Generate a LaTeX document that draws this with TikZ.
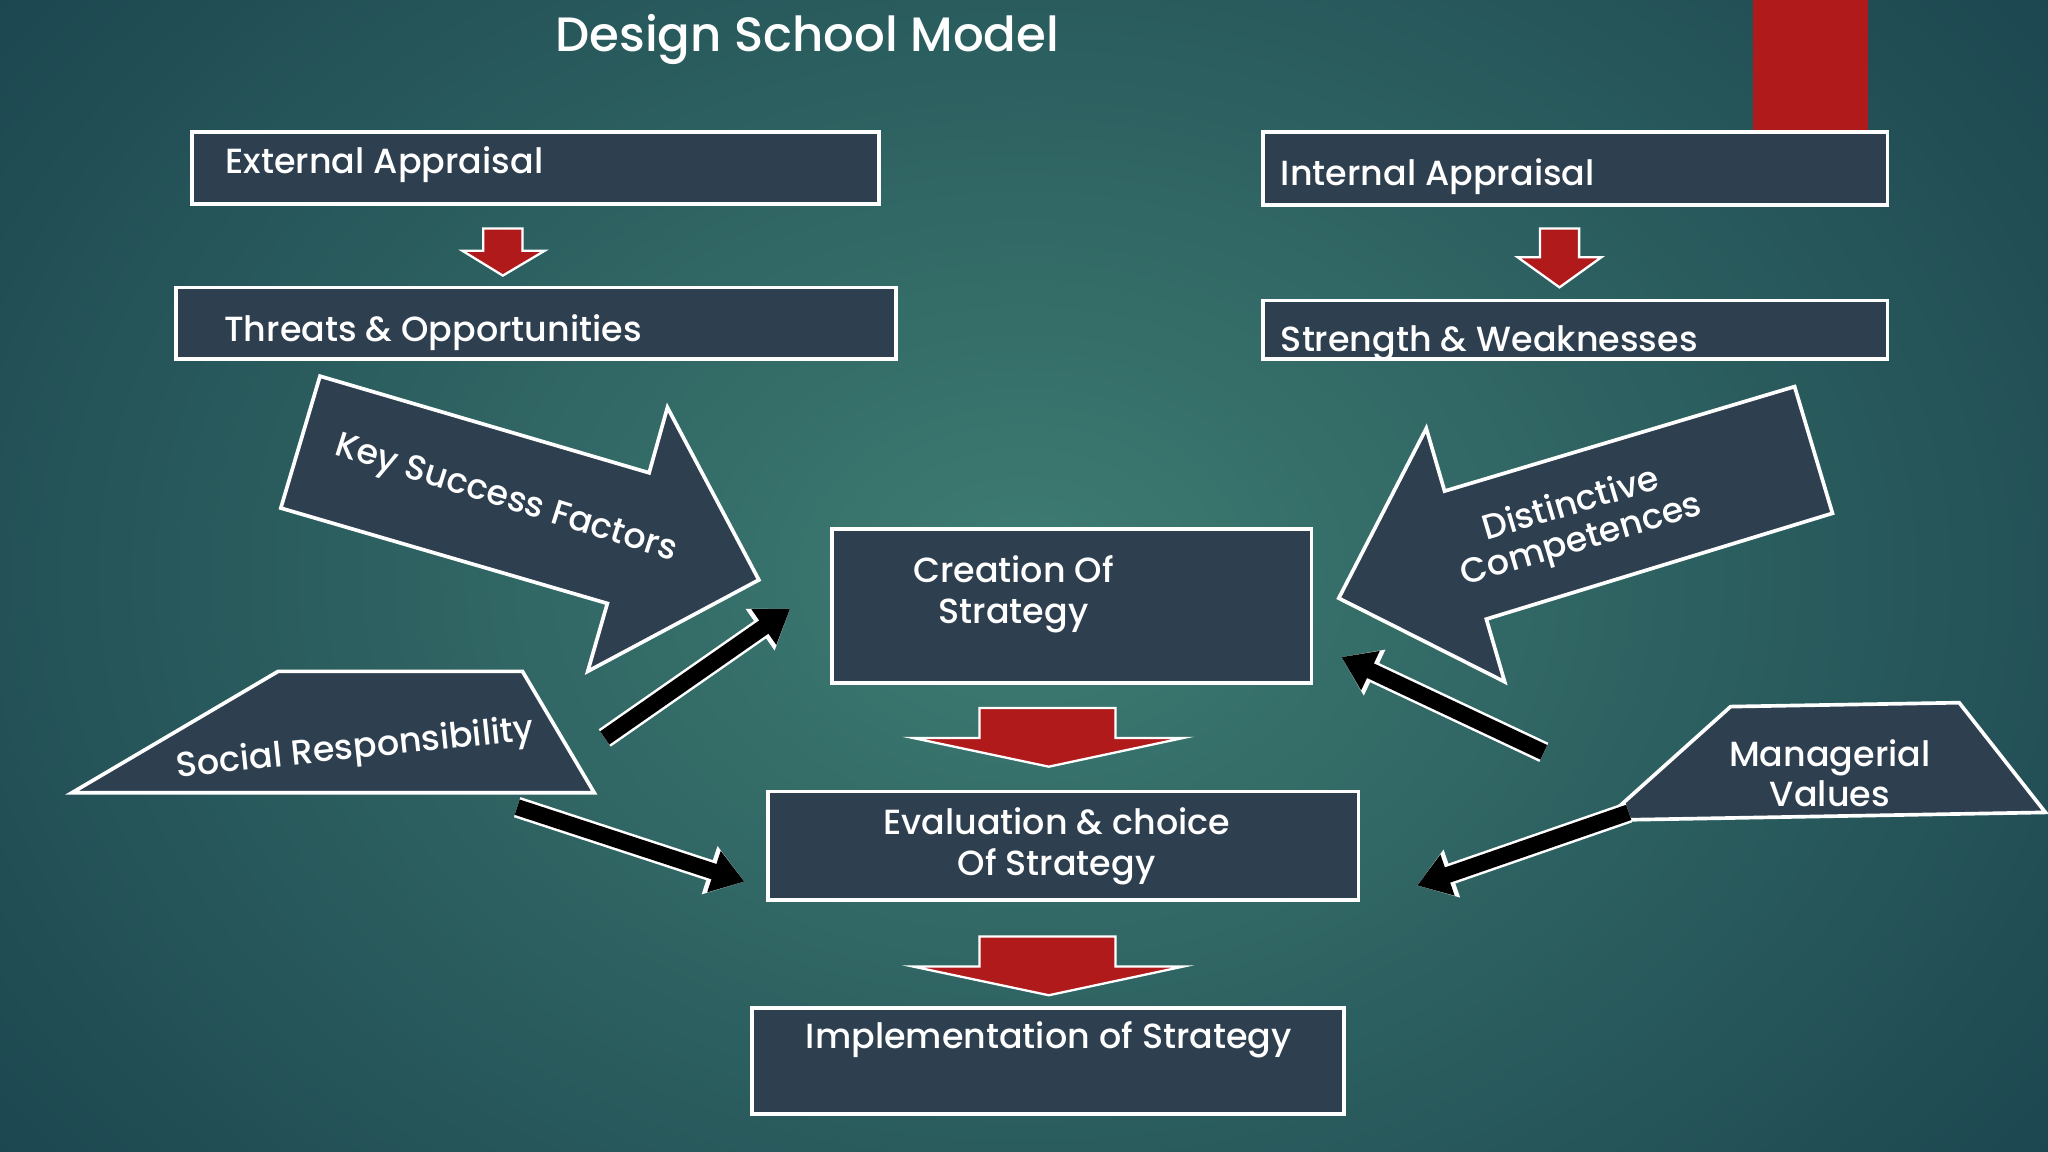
\documentclass[tikz,border=0pt]{standalone}
\usepackage{fontspec}
\setmainfont{Poppins}[UprightFont={* Medium}]
\usetikzlibrary{arrows.meta}
\definecolor{boxc}{HTML}{2E3F4F}
\definecolor{redc}{HTML}{B01A1A}
\definecolor{bgin}{HTML}{3E7C72}
\definecolor{bgout}{HTML}{1C4650}
\tikzset{
  box/.style={draw=white, fill=boxc, line width=0.8pt},
  lbl/.style={text=white, font=\fontsize{7.6}{8.8}\selectfont, align=center},
  redarr/.style={fill=redc, draw=white, line width=0.5pt},
  blk/.style={line width=3.5pt, black, -{Triangle[length=7pt,width=9pt]},
     preaction={draw=white, line width=4.6pt, -{Triangle[length=8pt,width=10.5pt]}}}
}
\begin{document}
\begin{tikzpicture}[x=0.01cm,y=-0.01cm]
\useasboundingbox (0,0) rectangle (1568,882);
\shade[inner color=bgin, outer color=bgout] (-200,-300) rectangle (1768,1182);
\fill[redc] (1342,0) rectangle (1430,100);
\node[text=white, font=\fontsize{10.5}{12}\selectfont] (title) at (618,30) {Design School Model};
% top boxes
\draw[box] (147,101) rectangle (673,156);
\node[lbl, anchor=west, inner sep=0pt] (ext) at (172,126) {External Appraisal};
\draw[redarr] (370,175) -- (400,175) -- (400,192) -- (417,192) -- (385,211) -- (354,192) -- (370,192) -- cycle;
\draw[box] (135,220) rectangle (686,275);
\node[lbl, anchor=west, inner sep=0pt] (thr) at (171,255) {Threats \& Opportunities};
\draw[box] (967,101) rectangle (1445,157);
\node[lbl, anchor=west, inner sep=0pt] (int) at (980,135) {Internal Appraisal};
\draw[redarr] (1179,175) -- (1209,175) -- (1209,197) -- (1226,197) -- (1194,220) -- (1162,197) -- (1179,197) -- cycle;
\draw[box] (967,230) rectangle (1445,275);
\node[lbl, anchor=west, inner sep=0pt] (str) at (980,263) {Strength \& Weaknesses};
% big arrows
\draw[box] (245,288) -- (497,362) -- (511,312) -- (581,444) -- (450,514) -- (465,462) -- (215,389) -- cycle;
\node[lbl, rotate=-17.5] (ksf) at (387,383) {Key Success Factors};
\draw[box] (1374,296) -- (1403,393) -- (1138,474) -- (1152,522) -- (1025,458) -- (1092,328) -- (1106,376) -- cycle;
\node[lbl, rotate=16.5, align=center, font=\fontsize{7.6}{8}\selectfont] (dc) at (1207,401) {Distinctive\\Competences};
% center column
\draw[box] (637,405) rectangle (1004,523);
\node[lbl] (cos) at (776,455) {Creation Of\\Strategy};
\draw[redarr] (750,542) -- (854,542) -- (854,565) -- (906,565) -- (803,587) -- (699,565) -- (750,565) -- cycle;
\draw[box] (588,606) rectangle (1040,689);
\node[lbl] (eval) at (809,648) {Evaluation \& choice\\Of Strategy};
\draw[redarr] (750,717) -- (854,717) -- (854,740) -- (906,740) -- (803,762) -- (699,740) -- (750,740) -- cycle;
\draw[box] (576,772) rectangle (1029,853);
\node[lbl] (impl) at (803,796) {Implementation of Strategy};
% trapezoids
\draw[box] (55,607) -- (213,514) -- (400,514) -- (455,607) -- cycle;
\node[lbl, rotate=6] (soc) at (272,574) {Social Responsibility};
\draw[box] (1228,628) -- (1325,541) -- (1500,538) -- (1566,622) -- cycle;
\node[lbl] (mv) at (1401,592) {Managerial\\Values};
% black arrows
\coordinate (a1) at (463,565); \coordinate (b1) at (605,466);
\coordinate (a2) at (396,618); \coordinate (b2) at (570,675);
\coordinate (a3) at (1182,576); \coordinate (b3) at (1027,503);
\coordinate (a4) at (1247,622); \coordinate (b4) at (1085,678);
\draw[blk] (a1) -- (b1);
\draw[blk] (a2) -- (b2);
\draw[blk] (a3) -- (b3);
\draw[blk] (a4) -- (b4);
\end{tikzpicture}
\end{document}
